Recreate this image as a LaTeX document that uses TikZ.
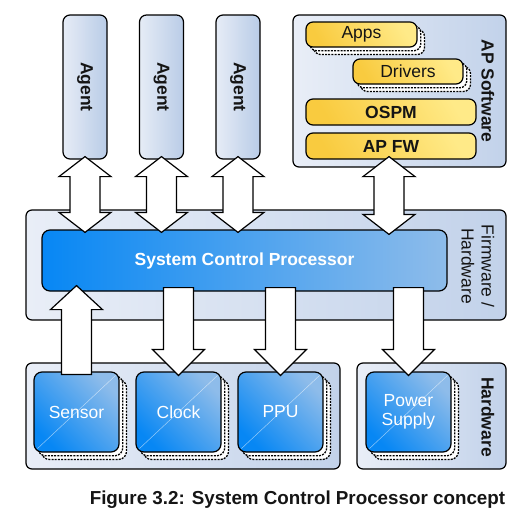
\documentclass[tikz,border=0pt]{standalone}
\usepackage{fontspec}
\setmainfont{Liberation Sans}
\usetikzlibrary{shadows,calc}
\definecolor{contL}{HTML}{E9EEF7}
\definecolor{contR}{HTML}{C2D2EA}
\definecolor{agL}{HTML}{E6ECF6}
\definecolor{agR}{HTML}{B9CCE7}
\definecolor{yelT}{HTML}{FFEA88}
\definecolor{yelB}{HTML}{F9CB3F}
\definecolor{bluL}{HTML}{0787F4}
\definecolor{bluR}{HTML}{8EBCEA}
\definecolor{txt}{HTML}{151515}
\newcommand\fsz{\fontsize{17.5}{20}\selectfont}
\tikzset{
  outl/.style={draw=black, line width=1.2pt, inner sep=0pt},
  cont/.style={outl, rounded corners=6pt, left color=contL, right color=contR},
  agentbox/.style={outl, rounded corners=7pt, left color=agL, right color=agR, minimum width=44pt, minimum height=144pt},
  yelbox/.style={outl, rounded corners=7pt, left color=yelB, right color=yelT, shading angle=120, minimum height=25pt, font=\fsz, text=txt},
  stackcopy/.style={copy shadow={shadow xshift=#1, shadow yshift=-#1, fill=white, draw=black, line width=1.3pt, dash pattern=on 2pt off 1.2pt}},
  stack/.style={stackcopy=7.5pt, stackcopy=3.8pt},
  bluebox/.style={outl, rounded corners=8pt, left color=bluL, right color=bluR, shading angle=135, minimum width=85pt, minimum height=80pt, font=\fsz, text=white, align=center},
  gloss/.style={white, opacity=0.55, line width=0.5pt},
  fatarrow/.style={draw=black, fill=white, line width=1.2pt, line join=miter},
  vlabel/.style={rotate=-90, font=\fsz, text=txt, align=center},
}
\newcommand\dblarrow[2]{\draw[fatarrow] let \p1=(#1), \p2=(#2) in
  (\x1,\y1) -- ++(26pt,-20pt) -- ++(-11pt,0pt) -- (\x1+15pt,\y2+20pt) -- ++(11pt,0pt) -- (\x1,\y2)
  -- (\x1-26pt,\y2+20pt) -- ++(11pt,0pt) -- (\x1-15pt,\y1-20pt) -- ++(-11pt,0pt) -- cycle;}
\newcommand\uparr[2]{\draw[fatarrow] let \p1=(#1), \p2=(#2) in
  (\x1,\y1) -- ++(26pt,-24pt) -- ++(-11pt,0pt) -- (\x1+15pt,\y2) -- (\x1-15pt,\y2)
  -- (\x1-15pt,\y1-24pt) -- ++(-11pt,0pt) -- cycle;}
\newcommand\downarr[2]{\draw[fatarrow] let \p1=(#1), \p2=(#2) in
  (\x1,\y1) -- ++(26pt,26pt) -- ++(-11pt,0pt) -- (\x1+15pt,\y2) -- (\x1-15pt,\y2)
  -- (\x1-15pt,\y1+26pt) -- ++(-11pt,0pt) -- cycle;}
\begin{document}
\begin{tikzpicture}[x=1pt,y=-1pt]
\useasboundingbox (0,0) rectangle (519,520);
% agents
\node[agentbox] (a1) at (85,87) {};
\node[agentbox] (a2) at (161.5,87) {};
\node[agentbox] (a3) at (238,87) {};
\foreach \nm in {a1,a2,a3} \node[vlabel, font=\fsz\bfseries] at (\nm) {Agent};
% AP software
\node[cont, minimum width=213pt, minimum height=152pt] (apsw) at (399.5,91) {};
\node[vlabel, font=\fsz\bfseries] (apswl) at (488,91) {AP Software};
\node[yelbox, stack, minimum width=111pt] (apps) at (361.5,34.5) {Apps};
\node[yelbox, stack, minimum width=110pt] (drivers) at (408,71.5) {Drivers};
\node[yelbox, minimum width=170pt, minimum height=26pt, font=\fsz\bfseries] (ospm) at (391,112) {OSPM};
\node[yelbox, minimum width=170pt, minimum height=26pt, font=\fsz\bfseries] (apfw) at (391,146) {AP FW};
% firmware / hardware
\node[cont, minimum width=480pt, minimum height=110pt] (fwhw) at (266,265) {};
\node[vlabel] (fwhwl) at (478,266) {Firmware /\\Hardware};
\node[outl, rounded corners=8pt, left color=bluL, right color=bluR, minimum width=405pt, minimum height=61pt, font=\fsz\bfseries, text=white] (scp) at (244.5,260.5) {System Control Processor};
% hardware
\node[cont, minimum width=314pt, minimum height=106pt] (hw1) at (183,416) {};
\node[cont, minimum width=149pt, minimum height=106pt] (hw2) at (431.5,416) {};
\node[vlabel, font=\fsz\bfseries] (hwl) at (488,417) {Hardware};
\node[bluebox, stack] (sensor) at (76.5,412) {Sensor};
\node[bluebox, stack] (clock) at (178.5,412) {Clock};
\node[bluebox, stack] (ppu) at (280.5,412) {PPU};
\node[bluebox, stack] (power) at (408.5,412) {Power\\[-1pt]Supply};
\foreach \nm in {sensor,clock,ppu,power}
  {\draw[gloss] ($(\nm.south west)+(4,-4)$) -- ($(\nm.north east)+(-4,4)$);}
% arrows
\foreach \nm in {a1,a2,a3} {\dblarrow{$(\nm.south)+(0,-3)$}{$(\nm.south |- scp.north)+(0,3)$}}
\dblarrow{$(apfw.south)+(-2,-3)$}{$(apfw.south |- scp.north)+(-2,5)$}
\uparr{$(sensor.north |- scp.south)+(0,-6)$}{$(sensor.north)+(0,3)$}
\foreach \nm in {clock,ppu,power} {\downarr{$(\nm.north)+(0,4)$}{$(\nm.north |- scp.south)+(0,-4)$}}
% caption
\node[font=\fontsize{18.8}{22}\selectfont\bfseries, text=txt] (cap) at (297.5,500) {Figure 3.2: System Control Processor concept};
\end{tikzpicture}
\end{document}
